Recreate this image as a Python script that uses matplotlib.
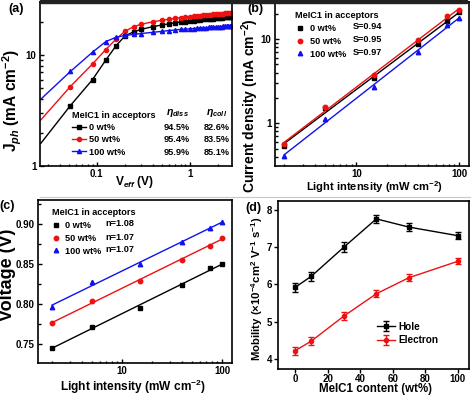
import numpy as np
import matplotlib
matplotlib.use('Agg')
import matplotlib.pyplot as plt
from matplotlib.patches import Rectangle
from matplotlib.lines import Line2D
from matplotlib.ticker import FuncFormatter, NullFormatter, MultipleLocator, FixedLocator

plt.rcParams.update({
    'font.family': ['Liberation Sans', 'DejaVu Sans'],
    'font.weight': 'bold',
    'axes.labelweight': 'bold',
    'mathtext.fontset': 'custom',
    'mathtext.rm': 'Liberation Sans:bold',
    'mathtext.it': 'Liberation Sans:bold:italic',
    'mathtext.bf': 'Liberation Sans:bold',
    'axes.linewidth': 1.2,
})

# ---------------- data ----------------
series_labels = ['0 wt%', '50 wt%', '100 wt%']
colors = ['black', '#ee1111', '#1111ee']
markers = ['s', 'o', '^']

# (a) Jph vs Veff
veff = [0.025, 0.052, 0.09, 0.125, 0.16, 0.2, 0.25,
        0.3, 0.4, 0.5, 0.6, 0.7, 0.8, 0.9, 1.0, 1.1, 1.2, 1.3, 1.4, 1.5,
        1.6, 1.7, 1.8, 1.9, 2.0, 2.1, 2.2, 2.3, 2.4, 2.5, 2.6, 2.7, 2.8]
jph_0 = [1.6, 3.5, 6.0, 9.0, 12.0, 14.8, 16.2,
         17.0, 18.0, 18.6, 19.1, 19.5, 19.8, 20.0, 20.2, 20.4, 20.6, 20.7, 20.9, 21.0,
         21.1, 21.2, 21.3, 21.4, 21.5, 21.6, 21.7, 21.8, 21.8, 21.9, 22.0, 22.0, 22.1]
jph_50 = [2.6, 5.2, 8.3, 11.2, 13.8, 16.3, 18.0,
          18.9, 19.9, 20.5, 21.0, 21.4, 21.7, 21.9, 22.1, 22.3, 22.5, 22.6, 22.8, 22.9,
          23.0, 23.1, 23.2, 23.3, 23.4, 23.5, 23.6, 23.6, 23.7, 23.8, 23.8, 23.9, 24.0]
jph_100 = [4.0, 7.1, 10.6, 13.2, 14.4, 15.0, 15.3,
           15.6, 16.0, 16.3, 16.6, 16.8, 17.0, 17.1, 17.2, 17.3, 17.4, 17.5, 17.6, 17.6,
           17.7, 17.8, 17.8, 17.9, 17.9, 18.0, 18.0, 18.1, 18.1, 18.2, 18.2, 18.3, 18.3]
eta_diss = ['94.5%', '95.4%', '95.9%']
eta_coll = ['82.6%', '83.5%', '85.1%']

# (b),(c) light intensity dependence
intensity = [2, 5, 15, 40, 76, 100]
jsc_0 = [0.54, 1.5, 3.5, 8.7, 16.3, 21.0]
jsc_50 = [0.56, 1.55, 3.8, 9.8, 18.7, 22.0]
jsc_100 = [0.41, 1.12, 2.72, 7.1, 14.6, 17.8]
s_vals = ['S=0.94', 'S=0.95', 'S=0.97']
voc_0 = [0.745, 0.771, 0.795, 0.823, 0.845, 0.850]
voc_50 = [0.776, 0.803, 0.829, 0.855, 0.873, 0.883]
voc_100 = [0.796, 0.827, 0.850, 0.878, 0.895, 0.902]
n_vals = ['n=1.08', 'n=1.07', 'n=1.07']

# (d) mobility
content = [0, 10, 30, 50, 70, 100]
mu_hole = [5.92, 6.22, 7.0, 7.76, 7.54, 7.31]
mu_hole_err = [0.11, 0.12, 0.13, 0.11, 0.11, 0.1]
mu_elec = [4.22, 4.48, 5.15, 5.75, 6.18, 6.62]
mu_elec_err = [0.11, 0.11, 0.11, 0.1, 0.09, 0.08]

# ---------------- figure ----------------
W, H = 474, 397
fig = plt.figure(figsize=(W / 100, H / 100), dpi=100)


def rect(l, t, r, b):
    return [l / W, 1 - b / H, (r - l) / W, (b - t) / H]


axA = fig.add_axes(rect(40, 2, 232, 166))
axB = fig.add_axes(rect(275, 2, 469, 166))
axC = fig.add_axes(rect(38, 200, 232, 363))
axD = fig.add_axes(rect(278, 201, 469, 369))

# scan artefacts of the source image: dark strip on top, faint separator line
fig.add_artist(Rectangle((40 / W, 1 - 3 / H), (467 - 40) / W, 3 / H,
                         transform=fig.transFigure, color='#222222', zorder=10))
fig.add_artist(Line2D([40 / W, 470 / W], [1 - 197 / H, 1 - 197 / H],
                      transform=fig.transFigure, color='#c8c8c8', lw=0.8))

plain = FuncFormatter(lambda v, p: f'{v:g}')
LS = 7
LEG = 6.6

for ax in (axA, axB, axC):
    ax.tick_params(which='both', direction='in', labelsize=LS, width=1, pad=2.5)
    ax.tick_params(which='major', length=3)
    ax.tick_params(which='minor', length=1.8)
axD.tick_params(which='both', direction='out', labelsize=LS, width=1, length=3)
axD.tick_params(axis='x', pad=0.6)
axD.tick_params(axis='y', pad=1)


def place_labels(ax, xl, xfs, xpos, yl, yfs, ypos):
    ax.set_xlabel(xl, fontsize=xfs)
    ax.set_ylabel(yl, fontsize=yfs)
    ax.xaxis.set_label_coords(*xpos)
    ax.yaxis.set_label_coords(*ypos)
    ax.xaxis.label.set_va('center')
    ax.yaxis.label.set_va('center')


# ---- (a)
lines_a = []
for y, c, m, lab in zip([jph_0, jph_50, jph_100], colors, markers, series_labels):
    ln, = axA.plot(veff, y, color=c, marker=m, ms=3, lw=1, label=lab,
                   markevery=slice(1, None))
    lines_a.append(ln)
axA.set_xscale('log')
axA.set_yscale('log')
axA.set_xlim(0.0245, 2.85)
axA.set_ylim(1, 30)
axA.xaxis.set_major_formatter(plain)
axA.yaxis.set_major_formatter(plain)
axA.xaxis.set_minor_formatter(NullFormatter())
axA.yaxis.set_minor_formatter(NullFormatter())
place_labels(axA, r'V$_{eff}$ (V)', 8.6, (0.495, -0.10),
             r'J$_{ph}$ (mA cm$^{-2}$)', 11.2, (-0.143, 0.40))
axA.legend(lines_a, series_labels, title='MeIC1 in acceptors', alignment='left',
           loc='upper left', bbox_to_anchor=(0.165, 0.335), frameon=False,
           fontsize=LEG, title_fontsize=LEG, handlelength=1.6, handletextpad=0.3,
           labelspacing=0.35, borderpad=0, borderaxespad=0)
axA.text(0.714, 0.323, r'$\eta_{diss}$', transform=axA.transAxes, ha='center', va='center', fontsize=LEG + 1)
axA.text(0.922, 0.323, r'$\eta_{coll}$', transform=axA.transAxes, ha='center', va='center', fontsize=LEG + 1)
for yy, d, cc in zip([0.232, 0.159, 0.085], eta_diss, eta_coll):
    axA.text(0.714, yy, d, transform=axA.transAxes, ha='center', va='center', fontsize=LEG)
    axA.text(0.922, yy, cc, transform=axA.transAxes, ha='center', va='center', fontsize=LEG)

# ---- (b)
I = np.array(intensity, dtype=float)
handles_b = []
for y, c, m, lab in zip([jsc_0, jsc_50, jsc_100], colors, markers, series_labels):
    y = np.array(y)
    k, b0 = np.polyfit(np.log10(I), np.log10(y), 1)
    xf = np.logspace(np.log10(I[0]), np.log10(I[-1]), 50)
    axB.plot(xf, 10 ** (k * np.log10(xf) + b0), color=c, lw=1)
    h, = axB.plot(I, y, color=c, marker=m, ms=3.2, ls='none', label=lab)
    handles_b.append(h)
axB.set_xscale('log')
axB.set_yscale('log')
axB.set_xlim(1.62, 125)
axB.set_ylim(0.31, 27.7)
axB.xaxis.set_major_formatter(plain)
axB.yaxis.set_major_formatter(plain)
axB.xaxis.set_minor_formatter(NullFormatter())
axB.yaxis.set_minor_formatter(NullFormatter())
place_labels(axB, r'Light intensity (mW cm$^{-2}$)', 8.0, (0.51, -0.13),
             r'Current density (mA cm$^{-2}$)', 10.0, (-0.13, 0.37))
axB.legend(handles_b, series_labels, title='MeIC1 in acceptors', alignment='left',
           loc='upper left', bbox_to_anchor=(0.105, 0.945), frameon=False,
           fontsize=LEG, title_fontsize=LEG, handlelength=1.0, handletextpad=0.6,
           labelspacing=0.42, borderpad=0, borderaxespad=0)
for yy, s in zip([0.848, 0.774, 0.695], s_vals):
    axB.text(0.40, yy, s, transform=axB.transAxes, ha='left', va='center', fontsize=LEG)

# ---- (c)
handles_c = []
for y, c, m, lab in zip([voc_0, voc_50, voc_100], colors, markers, series_labels):
    y = np.array(y)
    k, b0 = np.polyfit(np.log10(I), y, 1)
    xf = np.logspace(np.log10(I[0]), np.log10(I[-1]), 50)
    axC.plot(xf, k * np.log10(xf) + b0, color=c, lw=1)
    h, = axC.plot(I, y, color=c, marker=m, ms=3.2, ls='none', label=lab)
    handles_c.append(h)
axC.set_xscale('log')
axC.set_xlim(1.45, 126)
axC.set_ylim(0.726, 0.93)
axC.yaxis.set_major_locator(FixedLocator([0.75, 0.80, 0.85, 0.90]))
axC.yaxis.set_minor_locator(MultipleLocator(0.025))
axC.yaxis.set_major_formatter(FuncFormatter(lambda v, p: f'{v:.2f}'))
axC.xaxis.set_major_formatter(plain)
axC.xaxis.set_minor_formatter(NullFormatter())
place_labels(axC, r'Light intensity (mW cm$^{-2}$)', 8.6, (0.49, -0.145),
             'Voltage (V)', 13.0, (-0.155, 0.54))
axC.legend(handles_c, series_labels, title='MeIC1 in acceptors', alignment='left',
           loc='upper left', bbox_to_anchor=(0.07, 0.95), frameon=False,
           fontsize=LEG, title_fontsize=LEG, handlelength=1.0, handletextpad=0.5,
           labelspacing=0.42, borderpad=0, borderaxespad=0)
for yy, s in zip([0.853, 0.773, 0.699], n_vals):
    axC.text(0.345, yy, s, transform=axC.transAxes, ha='left', va='center', fontsize=LEG)

# ---- (d)
axD.errorbar(content, mu_hole, yerr=mu_hole_err, color='black', marker='s', ms=3,
             lw=1, capsize=2, elinewidth=1, label='Hole')
axD.errorbar(content, mu_elec, yerr=mu_elec_err, color='#ee1111', marker='o', ms=3,
             lw=1, capsize=2, elinewidth=1, label='Electron')
axD.set_xlim(-10.5, 107)
axD.set_ylim(3.73, 8.24)
axD.xaxis.set_major_locator(MultipleLocator(20))
axD.yaxis.set_major_locator(MultipleLocator(1))
place_labels(axD, 'MeIC1 content (wt%)', 8.3, (0.51, -0.118),
             r'Mobility (×10$^{-4}$cm$^{2}$ V$^{-1}$ s$^{-1}$)', 8.2, (-0.11, 0.48))
axD.legend(loc='upper left', bbox_to_anchor=(0.52, 0.28), frameon=False,
           fontsize=LEG + 0.6, handlelength=1.8, handletextpad=0.3,
           labelspacing=0.35, borderpad=0, borderaxespad=0)

# panel labels
for lab, (px, py) in zip(['(a)', '(b)', '(c)', '(d)'],
                         [(16, 9), (255, 9), (7, 206), (253, 208)]):
    fig.text(px / W, 1 - py / H, lab, ha='center', va='center', fontsize=9)

fig.savefig('out.png', dpi=100)
